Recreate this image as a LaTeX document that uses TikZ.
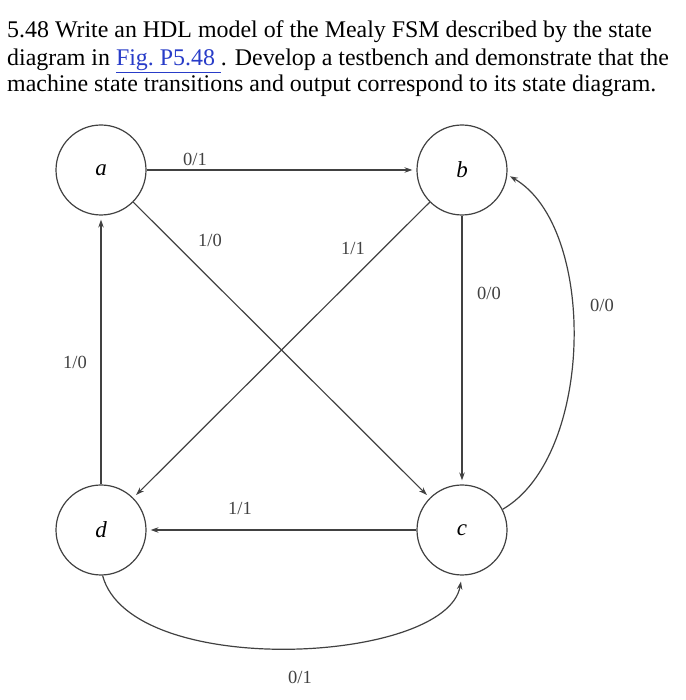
\documentclass[tikz,border=0pt]{standalone}
\usepackage{fontspec}
\setmainfont{Liberation Serif}
\usetikzlibrary{arrows.meta,positioning}
\tikzset{>={Stealth[length=8pt,width=5.5pt]}}
\definecolor{linkblue}{RGB}{40,60,200}
\definecolor{edgegray}{RGB}{65,65,65}

\begin{document}
\begin{tikzpicture}[x=1pt,y=1pt,
	state/.style={circle,draw=edgegray,line width=1.2pt,minimum size=90pt,inner sep=0pt,font=\fontsize{23}{23}\selectfont\itshape},
	trans/.style={->,draw=edgegray,line width=1.2pt,shorten >=4pt},
	lab/.style={text=edgegray,font=\fontsize{18.5}{18.5}\selectfont,inner sep=0pt},
	title/.style={anchor=base west,inner sep=0pt,font=\fontsize{23.9}{27}\selectfont}]
	\useasboundingbox (0,0) rectangle (685,700);
	
	%Title
	\node[title] (T1) at (7,662) {5.48 Write an HDL model of the Mealy FSM described by the state};
	\node[title] (T2) at (7,634) {diagram in \textcolor{linkblue}{\underline{Fig.\ P5.48\ }}. Develop a testbench and demonstrate that the};
	\node[title] (T3) at (7,608) {machine state transitions and output correspond to its state diagram.};
	
	%States
	\node[state] (a) at (101,530) {a};
	\node[state] (b) at (462,530) {b};
	\node[state] (c) at (462,170) {c};
	\node[state] (d) at (101,170) {d};
	
	%Transitions
	\draw[trans] (a) -- (b);
	\draw[trans] (a) -- (c);
	\draw[trans] (b) -- (d);
	\draw[trans] (b) -- (c);
	\draw[trans] (c) -- (d);
	\draw[trans] (d) -- (a);
	\draw[trans,shorten >=3pt] (c.27) .. controls +(30:106) and +(-30:104) .. (b.-6);
	\draw[trans,shorten >=6pt] (d.-88) .. controls +(-75:108) and +(-100:90) .. (c.-90);
	
	%Labels
	\node[lab] (ab) at (195,541) {0/1};
	\node[lab] (ac) at (210,460) {1/0};
	\node[lab] (bd) at (353,452) {1/1};
	\node[lab] (bc) at (489,407) {0/0};
	\node[lab] (cb) at (602,395) {0/0};
	\node[lab] (da) at (75,338) {1/0};
	\node[lab] (cd) at (240,192) {1/1};
	\node[lab] (dc) at (300,23) {0/1};
\end{tikzpicture}
\end{document}
